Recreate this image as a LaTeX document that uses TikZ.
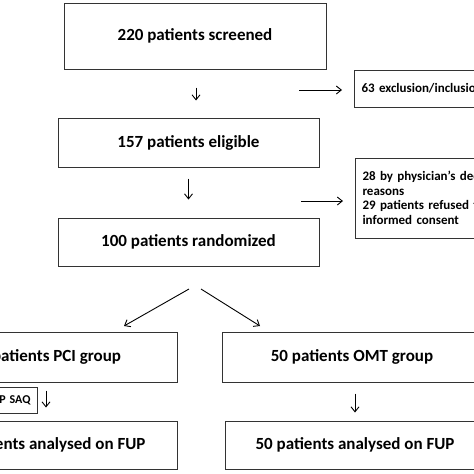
\documentclass[tikz,border=0pt]{standalone}
\usepackage{fontspec}
\setmainfont{Carlito}
\usepackage{tikz}
\usetikzlibrary{arrows.meta,positioning,calc}

\begin{document}
\begin{tikzpicture}[
			x=1pt, y=-1pt,
			font=\bfseries,
			>={Straight Barb[length=5pt,width=8pt]},
			proc/.style={draw=black!80, line width=1pt, fill=white, align=center, inner sep=0pt, minimum width=261pt, font=\fontsize{17}{20}\selectfont\bfseries},
			note/.style={draw=black!80, line width=1pt, fill=white, align=left, anchor=west, inner xsep=7pt, inner ysep=0pt, text width=200pt, font=\fontsize{13}{14.5}\selectfont\bfseries},
			flow/.style={->, line width=0.9pt}
			]
			\useasboundingbox (0,0) rectangle (474,474);
			\node[proc, minimum width=262pt, minimum height=66pt] (screen) at (195,36) {220 patients screened};
			\node[proc, minimum height=49pt] (elig) at (188.5,142.5) {157 patients eligible};
			\node[proc, minimum height=48pt] (rand) at (188.5,242) {100 patients randomized};
			\node[note, minimum height=37pt] (excl) at (354,88.5) {63 exclusion/inclusion criteria};
			\node[note, minimum height=80pt] (refus) at (355,198) {28 by physician's decision\\reasons\\29 patients refused to sign\\informed consent};
			
			\node[proc, minimum width=262pt, minimum height=50pt] (pci) at (46,357) {50 patients PCI group};
			\node[proc, minimum width=260pt, minimum height=50pt] (omt) at (352,357) {50 patients OMT group};
			\node[proc, minimum width=262pt, minimum height=48pt] (pcifup) at (46,445) {50 patients analysed on FUP};
			\node[proc, minimum width=260pt, minimum height=48pt] (omtfup) at (355,445) {50 patients analysed on FUP};
			\node[draw=black!80, line width=1pt, anchor=east, align=right, inner xsep=7pt, inner ysep=0pt, text width=70pt, minimum height=26pt, font=\fontsize{12}{13}\selectfont\bfseries] (saq) at (38,400) {FUP SAQ};
			
			\coordinate (skip1) at (299,90);
			\coordinate (skip2) at (301,201);
			\coordinate (forkL) at (189,289);
			\coordinate (forkR) at (201,289);
			\coordinate (tipL) at (124,326);
			\coordinate (tipR) at (260,326);
			
			\draw[flow, shorten <=18pt, shorten >=17pt] (screen.south -| 196,0) -- (elig.north -| 196,0);
			\draw[flow, shorten <=11pt, shorten >=18pt] (elig.south) -- (rand.north);
			\draw[flow, shorten >=12pt] (skip1) -- (skip1 -| excl.west);
			\draw[flow, shorten >=12pt] (skip2) -- (skip2 -| refus.west);
			\draw[flow] (forkL) -- (tipL);
			\draw[flow] (forkR) -- (tipR);
			\draw[flow, shorten <=8pt, shorten >=13pt] (pci.south) -- (pcifup.north);
			\draw[flow, shorten <=11pt, shorten >=8pt] (omt.south -| omtfup.north) -- (omtfup.north);
		\end{tikzpicture}
\end{document}
